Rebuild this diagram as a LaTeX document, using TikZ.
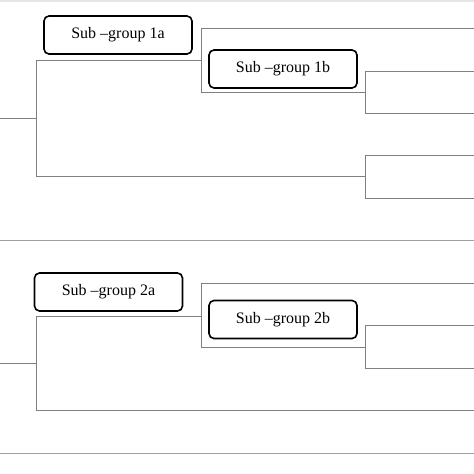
\documentclass[tikz,border=0pt]{standalone}
\usepackage{fontspec}
\setmainfont{Liberation Serif}
\usepackage{xcolor}
\definecolor{lgray}{RGB}{128,128,128}
\definecolor{rgray}{RGB}{160,160,160}

\begin{document}
\begin{tikzpicture}[x=1pt, y=-1pt,
    subgroup/.style={draw, line width=1.6pt, rounded corners=5pt, fill=white,
        minimum width=148pt, minimum height=38pt, inner sep=0pt,
        font=\fontsize{16}{18}\selectfont},
    branch/.style={draw=lgray, line width=1pt},
    divider/.style={draw=rgray, line width=1pt},
]
\useasboundingbox (0,0) rectangle (474,474);

% panel rules
\fill[gray!20] (0,0) rectangle (474,2);
\draw[divider] (0,240) -- (474,240);
\draw[divider] (0,453) -- (474,453);

% group 1
\coordinate (root1) at (0,118);
\coordinate (j1) at (36,118);
\coordinate (j1a) at (201,60);
\coordinate (j1b) at (365,92);
\coordinate (j1c) at (365,176);
\coordinate (l1) at (474,28);
\coordinate (l2) at (474,71);
\coordinate (l3) at (474,113);
\coordinate (l4) at (474,155);
\coordinate (l5) at (474,198);

\draw[branch] (root1) -- (j1);
\draw[branch] (j1) |- (j1a);
\draw[branch] (j1) |- (j1c);
\draw[branch] (j1a) |- (l1);
\draw[branch] (j1a) |- (j1b);
\draw[branch] (j1b) |- (l2);
\draw[branch] (j1b) |- (l3);
\draw[branch] (j1c) |- (l4);
\draw[branch] (j1c) |- (l5);

\node[subgroup] (sg1a) at (118,35) {Sub –group 1a};
\node[subgroup] (sg1b) at (283,69) {Sub –group 1b};

% group 2
\coordinate (root2) at (0,363);
\coordinate (j2) at (36,363);
\coordinate (j2a) at (201,316);
\coordinate (j2b) at (365,347);
\coordinate (m1) at (474,283);
\coordinate (m2) at (474,325);
\coordinate (m3) at (474,368);
\coordinate (m4) at (474,410);

\draw[branch] (root2) -- (j2);
\draw[branch] (j2) |- (j2a);
\draw[branch] (j2) |- (m4);
\draw[branch] (j2a) |- (m1);
\draw[branch] (j2a) |- (j2b);
\draw[branch] (j2b) |- (m2);
\draw[branch] (j2b) |- (m3);

\node[subgroup] (sg2a) at (108.5,292) {Sub –group 2a};
\node[subgroup] (sg2b) at (283,319.5) {Sub –group 2b};

\end{tikzpicture}
\end{document}
